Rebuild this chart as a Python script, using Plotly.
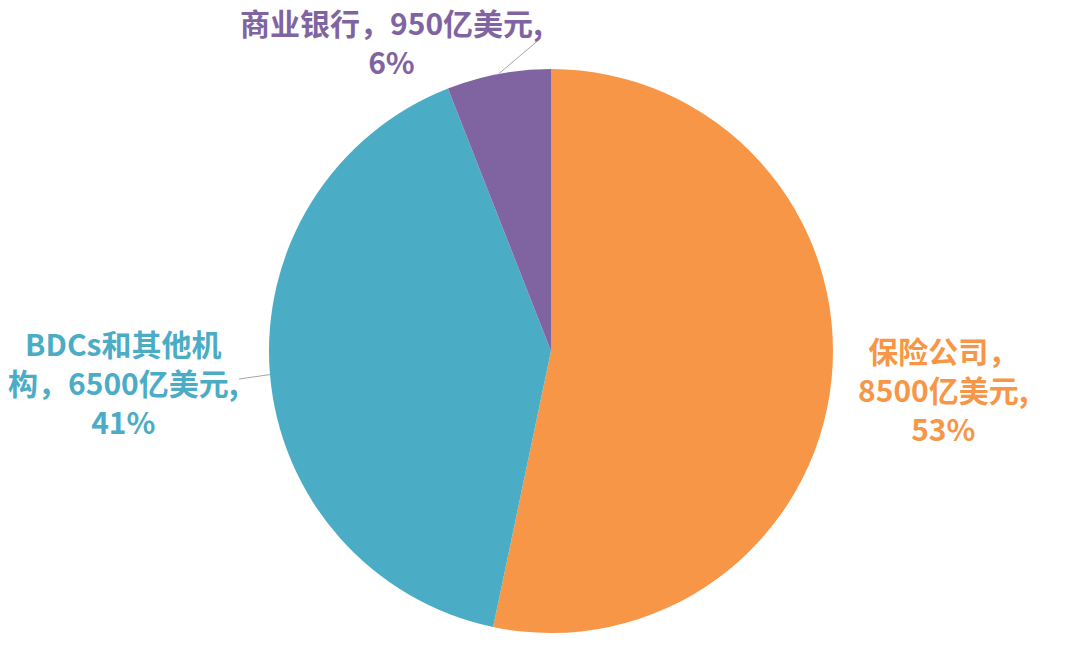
import math
import plotly.graph_objects as go

# data
categories = ["保险公司", "BDCs和其他机构", "商业银行"]
values = [8500, 6500, 950]   # 亿美元
colors = ["#F79646", "#4BACC6", "#8064A2"]

W, H = 1080, 667
OFF = 7                     # page offset of the rendered figure
cx, cy, R = 550 - OFF, 350 - OFF, 282   # pie centre / radius in px

total = sum(values)
pcts = [round(v / total * 100) for v in values]

# wrapped label text (as in the source chart)
label_text = [
    "保险公司，<br>{v}亿美元,<br>{p}%",
    "BDCs和其他机<br>构，{v}亿美元,<br>{p}%",
    "商业银行，{v}亿美元,<br>{p}%",
]
label_pos = [(942, 388), (122, 381), (390, 40)]      # px, label centres
leader_start = [None, (238, 378), (540, 37)]        # px, text end of leader line


def px2paper(x, y):
    return x / W, 1 - y / H


fig = go.Figure(go.Pie(
    labels=categories, values=values, sort=False,
    direction="clockwise", rotation=0,
    marker=dict(colors=colors, line=dict(width=0)),
    textinfo="none", hoverinfo="label+value+percent",
    domain=dict(x=[(cx - R) / W, (cx + R) / W],
                y=[1 - (cy + R) / H, 1 - (cy - R) / H]),
    showlegend=False,
))

# labels + leader lines from slice mid angles
cum = 0
for i, v in enumerate(values):
    mid = (cum + v / 2) / total * 2 * math.pi
    cum += v
    ex, ey = cx + R * math.sin(mid), cy - R * math.cos(mid)
    lx, ly = px2paper(label_pos[i][0] - OFF, label_pos[i][1] - OFF)
    fig.add_annotation(
        x=lx, y=ly, xref="paper", yref="paper", showarrow=False,
        xanchor="center", yanchor="middle", align="center",
        text="<b>" + label_text[i].format(v=values[i], p=pcts[i]) + "</b>",
        font=dict(size=30, color=colors[i], family="Noto Sans CJK SC"),
    )
    if leader_start[i]:
        x0, y0 = px2paper(leader_start[i][0] - OFF, leader_start[i][1] - OFF)
        x1, y1 = px2paper(ex, ey)
        fig.add_shape(type="line", xref="paper", yref="paper",
                      x0=x0, y0=y0, x1=x1, y1=y1,
                      line=dict(color="#A6A6A6", width=1))

fig.update_layout(
    width=W, height=H, margin=dict(l=0, r=0, t=0, b=0),
    paper_bgcolor="white", plot_bgcolor="white",
    font=dict(family="Noto Sans CJK SC"),
)
fig.write_html("out.html")
